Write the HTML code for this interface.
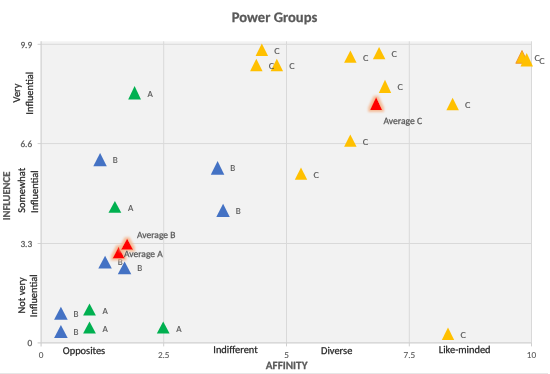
<!DOCTYPE html>
<html><head><meta charset="utf-8"><title>Power Groups</title>
<style>html,body{margin:0;padding:0;background:#fff;}body{width:550px;height:374px;overflow:hidden;position:relative;}
.frame{position:absolute;left:0;top:0;width:550px;height:374px;filter:blur(0.3px);}
.bl{position:absolute;left:0;top:373px;width:548px;height:1px;background:#E6E6E6;}</style></head>
<body><div class="frame"><svg width="550" height="374" viewBox="0 0 550 374" text-rendering="geometricPrecision" font-family='"Carlito","Liberation Sans",sans-serif'><defs><filter id="glow" x="-60%" y="-60%" width="220%" height="220%">
<feMorphology in="SourceAlpha" operator="dilate" radius="1.8" result="d"/>
<feGaussianBlur in="d" stdDeviation="1.3" result="b"/>
<feFlood flood-color="#F5B58C" flood-opacity="0.85"/>
<feComposite in2="b" operator="in" result="g"/>
<feMerge><feMergeNode in="g"/><feMergeNode in="SourceGraphic"/></feMerge>
</filter></defs><rect x="41.1" y="41.3" width="490.4" height="301.59999999999997" fill="#F2F2F2"/>
<line x1="163.7" y1="41.3" x2="163.7" y2="342.9" stroke="#D9D9D9" stroke-width="1"/>
<line x1="286.5" y1="41.3" x2="286.5" y2="342.9" stroke="#D9D9D9" stroke-width="1"/>
<line x1="409.3" y1="41.3" x2="409.3" y2="342.9" stroke="#D9D9D9" stroke-width="1"/>
<line x1="531.5" y1="41.3" x2="531.5" y2="342.9" stroke="#D9D9D9" stroke-width="1"/>
<line x1="41.1" y1="243.5" x2="531.5" y2="243.5" stroke="#D9D9D9" stroke-width="1"/>
<line x1="41.1" y1="143.6" x2="531.5" y2="143.6" stroke="#D9D9D9" stroke-width="1"/>
<line x1="41.1" y1="44.3" x2="531.5" y2="44.3" stroke="#D9D9D9" stroke-width="1"/>
<line x1="41.1" y1="41.3" x2="41.1" y2="346.4" stroke="#D0D0D0" stroke-width="1.2"/>
<line x1="37.6" y1="342.9" x2="531.5" y2="342.9" stroke="#D0D0D0" stroke-width="1.2"/>
<line x1="163.7" y1="342.9" x2="163.7" y2="346.4" stroke="#D0D0D0" stroke-width="1"/>
<line x1="286.5" y1="342.9" x2="286.5" y2="346.4" stroke="#D0D0D0" stroke-width="1"/>
<line x1="409.3" y1="342.9" x2="409.3" y2="346.4" stroke="#D0D0D0" stroke-width="1"/>
<line x1="531.5" y1="342.9" x2="531.5" y2="346.4" stroke="#D0D0D0" stroke-width="1"/>
<line x1="37.6" y1="243.5" x2="41.1" y2="243.5" stroke="#D0D0D0" stroke-width="1"/>
<line x1="37.6" y1="143.6" x2="41.1" y2="143.6" stroke="#D0D0D0" stroke-width="1"/>
<line x1="37.6" y1="44.3" x2="41.1" y2="44.3" stroke="#D0D0D0" stroke-width="1"/>
<text x="32.2" y="346.2" font-size="9.3" fill="#595959" stroke="#595959" stroke-width="0.25" text-anchor="end" font-weight="normal" textLength="4.72" lengthAdjust="spacingAndGlyphs">0</text>
<text x="32.2" y="246.8" font-size="9.3" fill="#595959" stroke="#595959" stroke-width="0.25" text-anchor="end" font-weight="normal" textLength="11.78" lengthAdjust="spacingAndGlyphs">3.3</text>
<text x="32.2" y="146.9" font-size="9.3" fill="#595959" stroke="#595959" stroke-width="0.25" text-anchor="end" font-weight="normal" textLength="11.78" lengthAdjust="spacingAndGlyphs">6.6</text>
<text x="32.2" y="47.599999999999994" font-size="9.3" fill="#595959" stroke="#595959" stroke-width="0.25" text-anchor="end" font-weight="normal" textLength="11.78" lengthAdjust="spacingAndGlyphs">9.9</text>
<text x="41.2" y="357.9" font-size="9.2" fill="#595959" stroke="#595959" stroke-width="0.1" text-anchor="middle" textLength="4.67" lengthAdjust="spacingAndGlyphs">0</text>
<text x="163.7" y="357.9" font-size="9.2" fill="#595959" stroke="#595959" stroke-width="0.1" text-anchor="middle" textLength="11.64" lengthAdjust="spacingAndGlyphs">2.5</text>
<text x="286.5" y="357.9" font-size="9.2" fill="#595959" stroke="#595959" stroke-width="0.1" text-anchor="middle" textLength="4.67" lengthAdjust="spacingAndGlyphs">5</text>
<text x="409.3" y="357.9" font-size="9.2" fill="#595959" stroke="#595959" stroke-width="0.1" text-anchor="middle" textLength="11.64" lengthAdjust="spacingAndGlyphs">7.5</text>
<text x="531.5" y="357.9" font-size="9.2" fill="#595959" stroke="#595959" stroke-width="0.1" text-anchor="middle" textLength="9.33" lengthAdjust="spacingAndGlyphs">10</text>
<text x="84.0" y="353.6" font-size="10.4" fill="#262626" stroke="#262626" stroke-width="0.25" text-anchor="middle" font-weight="normal" textLength="42.34" lengthAdjust="spacingAndGlyphs">Opposites</text>
<text x="235.5" y="353.4" font-size="10.4" fill="#262626" stroke="#262626" stroke-width="0.25" text-anchor="middle" font-weight="normal" textLength="44.41" lengthAdjust="spacingAndGlyphs">Indifferent</text>
<text x="336.7" y="353.6" font-size="10.4" fill="#262626" stroke="#262626" stroke-width="0.25" text-anchor="middle" font-weight="normal" textLength="31.22" lengthAdjust="spacingAndGlyphs">Diverse</text>
<text x="464.7" y="353.4" font-size="10.4" fill="#262626" stroke="#262626" stroke-width="0.25" text-anchor="middle" font-weight="normal" textLength="51.73" lengthAdjust="spacingAndGlyphs">Like-minded</text>
<text x="286.6" y="369.1" font-size="11.2" fill="#595959" stroke="#595959" stroke-width="0.25" text-anchor="middle" font-weight="bold" textLength="41.75" lengthAdjust="spacingAndGlyphs">AFFINITY</text>
<text transform="translate(10.3,196) rotate(-90)" font-size="10.6" font-weight="bold" fill="#595959" stroke="#595959" stroke-width="0.25" text-anchor="middle" textLength="48.73" lengthAdjust="spacingAndGlyphs">INFLUENCE</text>
<text transform="translate(20.1,93.0) rotate(-90)" font-size="10.4" fill="#262626" stroke="#262626" stroke-width="0.25" text-anchor="middle" textLength="18.94" lengthAdjust="spacingAndGlyphs">Very</text>
<text transform="translate(32.8,93.3) rotate(-90)" font-size="10.4" fill="#262626" stroke="#262626" stroke-width="0.25" text-anchor="middle" textLength="42.67" lengthAdjust="spacingAndGlyphs">Influential</text>
<text transform="translate(25.2,190.3) rotate(-90)" font-size="10.4" fill="#262626" stroke="#262626" stroke-width="0.25" text-anchor="middle" textLength="44.92" lengthAdjust="spacingAndGlyphs">Somewhat</text>
<text transform="translate(37.6,191.6) rotate(-90)" font-size="10.4" fill="#262626" stroke="#262626" stroke-width="0.25" text-anchor="middle" textLength="42.67" lengthAdjust="spacingAndGlyphs">Influential</text>
<text transform="translate(25.0,295.3) rotate(-90)" font-size="10.4" fill="#262626" stroke="#262626" stroke-width="0.25" text-anchor="middle" textLength="36.16" lengthAdjust="spacingAndGlyphs">Not very</text>
<text transform="translate(37.4,295.8) rotate(-90)" font-size="10.4" fill="#262626" stroke="#262626" stroke-width="0.25" text-anchor="middle" textLength="42.67" lengthAdjust="spacingAndGlyphs">Influential</text>
<text x="274.5" y="22.1" font-size="14.6" fill="#595959" stroke="#595959" stroke-width="0.25" text-anchor="middle" font-weight="bold" textLength="85.52" lengthAdjust="spacingAndGlyphs">Power Groups</text>
<polygon points="54.1,319.7 60.9,306.7 67.7,319.7" fill="#4472C4"/>
<polygon points="54.1,337.9 60.9,324.9 67.7,337.9" fill="#4472C4"/>
<polygon points="98.3,268.6 105.1,255.7 111.8,268.6" fill="#4472C4"/>
<polygon points="117.8,274.3 124.6,261.6 131.3,274.3" fill="#4472C4"/>
<polygon points="93.3,166.2 100.1,153.1 106.8,166.2" fill="#4472C4"/>
<polygon points="210.8,174.8 217.6,161.1 224.3,174.8" fill="#4472C4"/>
<polygon points="216.3,217.0 223.1,203.7 229.8,217.0" fill="#4472C4"/>
<polygon points="83.1,315.6 89.5,303.6 95.9,315.6" fill="#00B050"/>
<polygon points="83.1,333.4 89.5,321.4 95.9,333.4" fill="#00B050"/>
<polygon points="108.5,212.7 114.9,200.9 121.3,212.7" fill="#00B050"/>
<polygon points="128.2,99.5 134.6,86.0 141.0,99.5" fill="#00B050"/>
<polygon points="156.8,333.5 163.2,321.4 169.6,333.5" fill="#00B050"/>
<polygon points="255.6,55.9 261.8,43.5 268.1,55.9" fill="#FFC000"/>
<polygon points="250.1,71.3 256.3,58.7 262.6,71.3" fill="#FFC000"/>
<polygon points="270.6,71.3 276.8,58.7 283.1,71.3" fill="#FFC000"/>
<polygon points="344.1,62.7 350.4,50.4 356.6,62.7" fill="#FFC000"/>
<polygon points="372.9,59.3 379.1,47.1 385.4,59.3" fill="#FFC000"/>
<polygon points="378.8,92.9 385.0,79.7 391.2,92.9" fill="#FFC000"/>
<polygon points="344.1,146.8 350.3,134.4 356.6,146.8" fill="#FFC000"/>
<polygon points="294.8,179.8 301.0,167.5 307.2,179.8" fill="#FFC000"/>
<polygon points="446.4,110.3 452.6,97.8 458.9,110.3" fill="#FFC000"/>
<polygon points="441.8,339.9 448.0,327.4 454.2,339.9" fill="#FFC000"/>
<polygon points="515.8,63.3 522.0,50.5 528.2,63.3" fill="#FFC000" stroke="#F0922A" stroke-width="0.9" stroke-linejoin="miter"/>
<polygon points="520.5,66.5 526.7,53.1 533.0,66.5" fill="#FFC000"/>
<text transform="translate(73.5,316.5) scale(1.0,1.0)" font-size="9.2" fill="#595959" stroke="#595959" stroke-width="0.12" textLength="5.00" lengthAdjust="spacingAndGlyphs">B</text>
<text transform="translate(73.5,334.7) scale(1.0,1.0)" font-size="9.2" fill="#595959" stroke="#595959" stroke-width="0.12" textLength="5.00" lengthAdjust="spacingAndGlyphs">B</text>
<text transform="translate(117.7,265.4) scale(1.0,1.0)" font-size="9.2" fill="#595959" stroke="#595959" stroke-width="0.12" textLength="5.00" lengthAdjust="spacingAndGlyphs">B</text>
<text transform="translate(137.2,271.3) scale(1.0,1.0)" font-size="9.2" fill="#595959" stroke="#595959" stroke-width="0.12" textLength="5.00" lengthAdjust="spacingAndGlyphs">B</text>
<text transform="translate(112.7,162.9) scale(1.0,1.0)" font-size="9.2" fill="#595959" stroke="#595959" stroke-width="0.12" textLength="5.00" lengthAdjust="spacingAndGlyphs">B</text>
<text transform="translate(230.2,171.2) scale(1.0,1.0)" font-size="9.2" fill="#595959" stroke="#595959" stroke-width="0.12" textLength="5.00" lengthAdjust="spacingAndGlyphs">B</text>
<text transform="translate(235.7,213.7) scale(1.0,1.0)" font-size="9.2" fill="#595959" stroke="#595959" stroke-width="0.12" textLength="5.00" lengthAdjust="spacingAndGlyphs">B</text>
<text transform="translate(102.5,313.7) scale(1.0,1.0)" font-size="9.2" fill="#595959" stroke="#595959" stroke-width="0.12" textLength="5.33" lengthAdjust="spacingAndGlyphs">A</text>
<text transform="translate(102.5,331.5) scale(1.0,1.0)" font-size="9.2" fill="#595959" stroke="#595959" stroke-width="0.12" textLength="5.33" lengthAdjust="spacingAndGlyphs">A</text>
<text transform="translate(127.9,210.9) scale(1.0,1.0)" font-size="9.2" fill="#595959" stroke="#595959" stroke-width="0.12" textLength="5.33" lengthAdjust="spacingAndGlyphs">A</text>
<text transform="translate(147.6,96.8) scale(1.0,1.0)" font-size="9.2" fill="#595959" stroke="#595959" stroke-width="0.12" textLength="5.33" lengthAdjust="spacingAndGlyphs">A</text>
<text transform="translate(176.2,331.6) scale(1.0,1.0)" font-size="9.2" fill="#595959" stroke="#595959" stroke-width="0.12" textLength="5.33" lengthAdjust="spacingAndGlyphs">A</text>
<text transform="translate(274.3,53.8) scale(1.1,1.0)" font-size="9.2" fill="#595959" stroke="#595959" stroke-width="0.12" textLength="4.91" lengthAdjust="spacingAndGlyphs">C</text>
<text transform="translate(268.8,69.0) scale(1.1,1.0)" font-size="9.2" fill="#595959" stroke="#595959" stroke-width="0.12" textLength="4.91" lengthAdjust="spacingAndGlyphs">C</text>
<text transform="translate(289.3,69.0) scale(1.1,1.0)" font-size="9.2" fill="#595959" stroke="#595959" stroke-width="0.12" textLength="4.91" lengthAdjust="spacingAndGlyphs">C</text>
<text transform="translate(362.9,60.6) scale(1.1,1.0)" font-size="9.2" fill="#595959" stroke="#595959" stroke-width="0.12" textLength="4.91" lengthAdjust="spacingAndGlyphs">C</text>
<text transform="translate(391.6,57.2) scale(1.1,1.0)" font-size="9.2" fill="#595959" stroke="#595959" stroke-width="0.12" textLength="4.91" lengthAdjust="spacingAndGlyphs">C</text>
<text transform="translate(397.5,90.4) scale(1.1,1.0)" font-size="9.2" fill="#595959" stroke="#595959" stroke-width="0.12" textLength="4.91" lengthAdjust="spacingAndGlyphs">C</text>
<text transform="translate(362.8,144.7) scale(1.1,1.0)" font-size="9.2" fill="#595959" stroke="#595959" stroke-width="0.12" textLength="4.91" lengthAdjust="spacingAndGlyphs">C</text>
<text transform="translate(313.5,177.7) scale(1.1,1.0)" font-size="9.2" fill="#595959" stroke="#595959" stroke-width="0.12" textLength="4.91" lengthAdjust="spacingAndGlyphs">C</text>
<text transform="translate(465.1,108.1) scale(1.1,1.0)" font-size="9.2" fill="#595959" stroke="#595959" stroke-width="0.12" textLength="4.91" lengthAdjust="spacingAndGlyphs">C</text>
<text transform="translate(460.5,337.7) scale(1.1,1.0)" font-size="9.2" fill="#595959" stroke="#595959" stroke-width="0.12" textLength="4.91" lengthAdjust="spacingAndGlyphs">C</text>
<text transform="translate(534.5,60.7) scale(1.1,1.0)" font-size="9.2" fill="#595959" stroke="#595959" stroke-width="0.12" textLength="4.91" lengthAdjust="spacingAndGlyphs">C</text>
<text transform="translate(539.2,63.8) scale(1.1,1.0)" font-size="9.2" fill="#595959" stroke="#595959" stroke-width="0.12" textLength="4.91" lengthAdjust="spacingAndGlyphs">C</text>
<polygon points="112.5,258.5 118.6,246.8 124.7,258.5" fill="#FF0000" filter="url(#glow)"/>
<polygon points="121.0,249.8 127.1,238.6 133.2,249.8" fill="#FF0000" filter="url(#glow)"/>
<polygon points="370.0,109.9 376.1,97.1 382.2,109.9" fill="#FF0000" filter="url(#glow)"/>
<text x="137.0" y="238.0" font-size="9.5" fill="#595959" stroke="#595959" stroke-width="0.25" text-anchor="start" font-weight="normal" textLength="38.36" lengthAdjust="spacingAndGlyphs">Average B</text>
<text x="124.0" y="256.8" font-size="9.5" fill="#595959" stroke="#595959" stroke-width="0.25" text-anchor="start" font-weight="normal" textLength="38.69" lengthAdjust="spacingAndGlyphs">Average A</text>
<text x="383.4" y="123.9" font-size="9.6" fill="#595959" stroke="#595959" stroke-width="0.25" text-anchor="start" font-weight="normal" textLength="38.62" lengthAdjust="spacingAndGlyphs">Average C</text></svg></div><div class="bl"></div></body></html>
